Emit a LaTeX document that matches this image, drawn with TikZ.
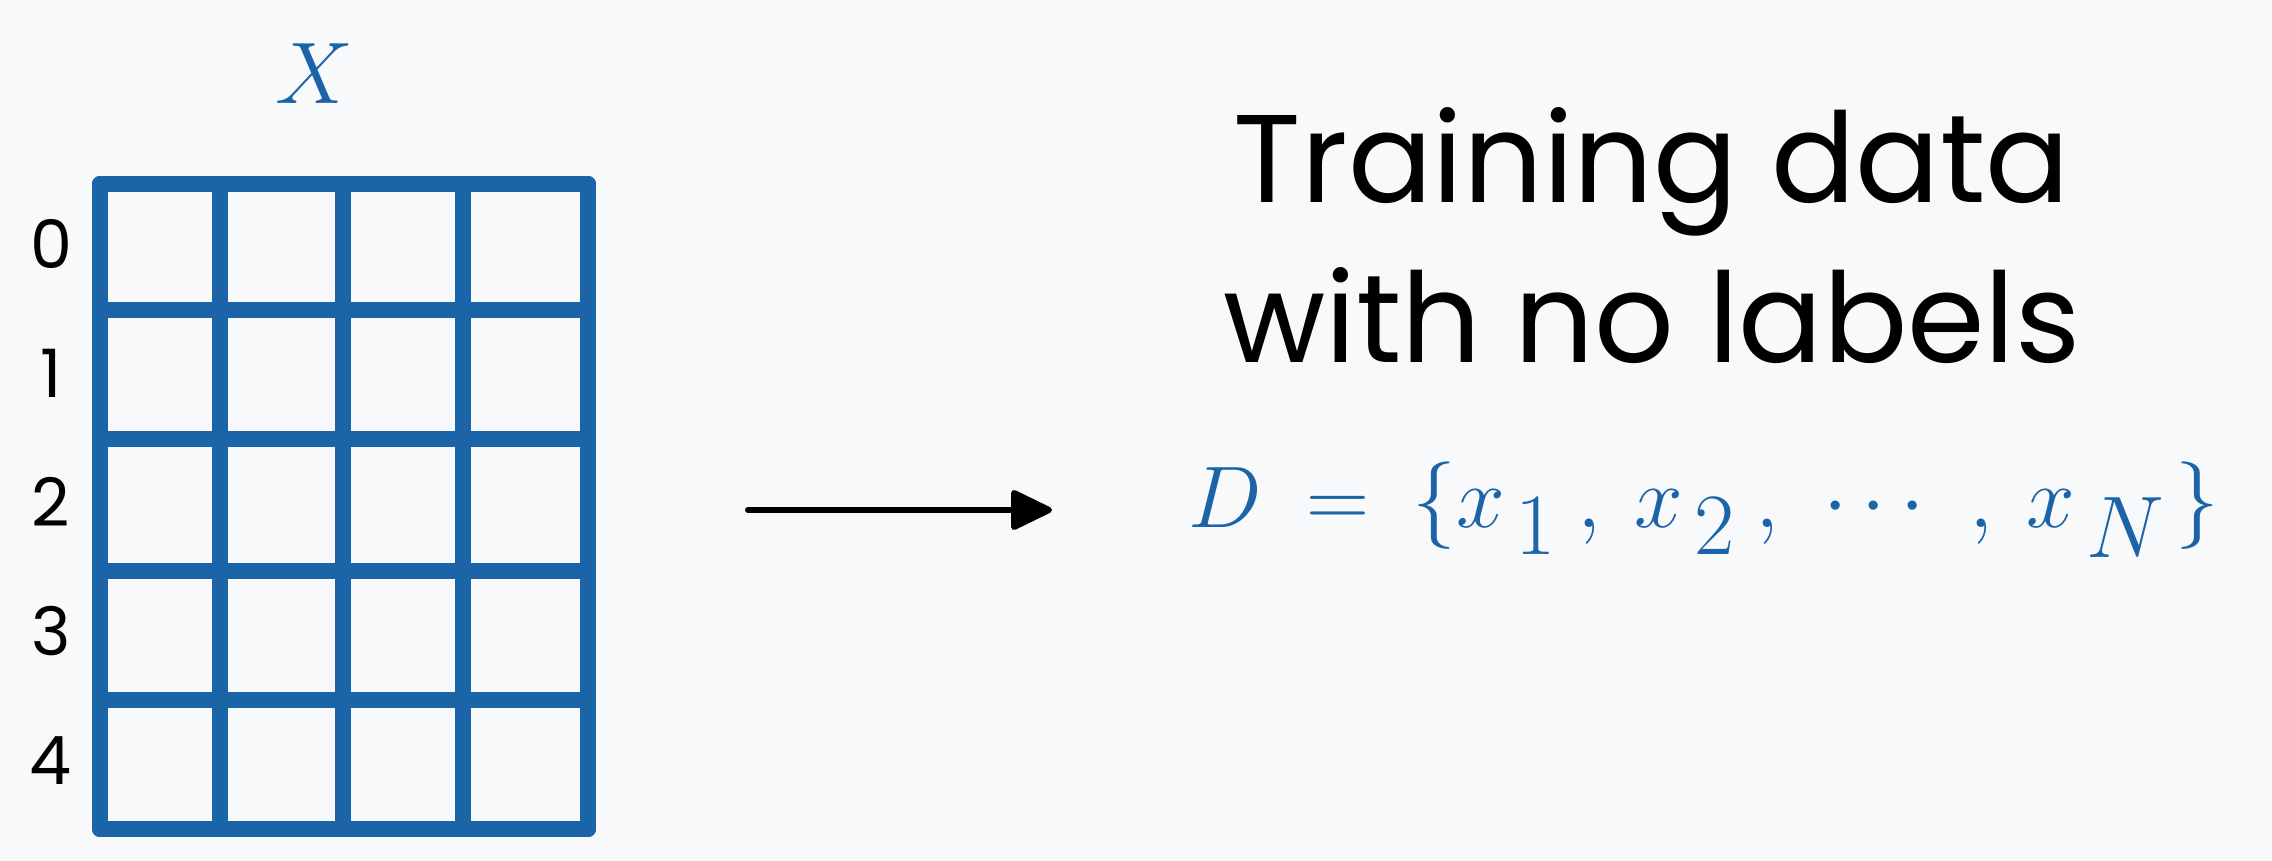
\documentclass[tikz,border=0pt]{standalone}
\usepackage{fontspec}
\setmainfont{Poppins}
\usetikzlibrary{arrows.meta}
\definecolor{bgpaper}{HTML}{F8F9FB}
\definecolor{gridblue}{HTML}{1B64A8}

\begin{document}
\begin{tikzpicture}[x=0.01cm,y=-0.01cm,node distance=1.29cm,
        grid line/.style={gridblue,line width=0.16cm,line cap=round},
        row label/.style={black,font=\fontsize{19}{19}\selectfont},
        caption text/.style={black,anchor=base,font=\fontsize{35.5}{35.5}\selectfont},
        set text/.style={gridblue,font=\fontsize{34}{34}\selectfont},
        flow arrow/.style={black,line width=0.06cm,line cap=round,-{Triangle[length=0.45cm,width=0.42cm,round]}}]

    \fill[bgpaper] (0,0) rectangle (2272,861);
    \useasboundingbox (0,0) rectangle (2272,861);

    % the data matrix
    \foreach \x in {100,220,343,463,588}
        \draw[grid line] (\x,184) -- (\x,829);
    \foreach \y in {184,310,439,571,700,829}
        \draw[grid line] (100,\y) -- (588,\y);

    \node[gridblue,font=\fontsize{41}{41}\selectfont] (X) at (314,74) {$X$};

    \node[row label] (0) at (51,244) {0};
    \node[row label] (1) [below of=0] {1};
    \node[row label] (2) [below of=1] {2};
    \node[row label] (3) [below of=2] {3};
    \node[row label] (4) [below of=3] {4};

    \node[caption text] (line1) at (1652,203) {Training data};
    \node[caption text] (line2) at (1652,363) {with no labels};

    \node[set text] (D) at (1704,510)
        {$D\mkern4mu=\mkern4mu\{x_{\kern3pt 1}\mkern4mu,\mkern4mu x_{\kern3pt 2}\mkern4mu,\mkern6mu\cdots\mkern6mu,\mkern4mu x_{\kern3pt N}\mkern2mu\}$};

    \coordinate (from) at (748,510);
    \coordinate (to) at (1052,510);
    \path (from) edge [flow arrow] (to);
\end{tikzpicture}
\end{document}
